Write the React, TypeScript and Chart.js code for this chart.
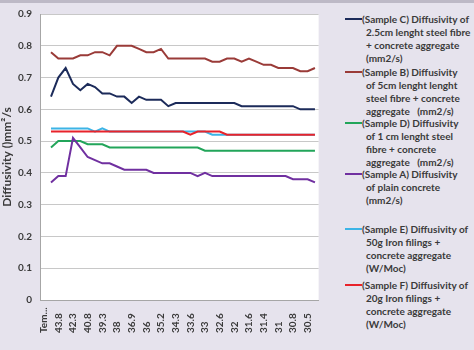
import React, { useEffect, useRef } from "react";
import { Chart, registerables } from "chart.js";

Chart.register(...registerables);

const categories = [
  "Temperature", "44.5", "43.8", "43.1", "42.3", "41.6", "40.8", "40.1", "39.3", "38.6",
  "38", "37.4", "36.9", "36.4", "36", "35.6", "35.2", "34.7", "34.3", "33.9",
  "33.6", "33.3", "33", "32.8", "32.6", "32.3", "32", "31.8", "31.6", "31.5",
  "31.4", "31.2", "31", "30.9", "30.8", "30.6", "30.5", "30.3",
];

const sampleC = [null,
  0.64, 0.70, 0.73, 0.68, 0.66, 0.68, 0.67, 0.65, 0.65, 0.64,
  0.64, 0.62, 0.64, 0.63, 0.63, 0.63, 0.61, 0.62, 0.62, 0.62,
  0.62, 0.62, 0.62, 0.62, 0.62, 0.62, 0.61, 0.61, 0.61, 0.61,
  0.61, 0.61, 0.61, 0.61, 0.60, 0.60, 0.60];
const sampleB = [null,
  0.78, 0.76, 0.76, 0.76, 0.77, 0.77, 0.78, 0.78, 0.77, 0.80,
  0.80, 0.80, 0.79, 0.78, 0.78, 0.79, 0.76, 0.76, 0.76, 0.76,
  0.76, 0.76, 0.75, 0.75, 0.76, 0.76, 0.75, 0.76, 0.75, 0.74,
  0.74, 0.73, 0.73, 0.73, 0.72, 0.72, 0.73];
const sampleD = [null,
  0.48, 0.50, 0.50, 0.50, 0.50, 0.49, 0.49, 0.49, 0.48, 0.48,
  0.48, 0.48, 0.48, 0.48, 0.48, 0.48, 0.48, 0.48, 0.48, 0.48,
  0.48, 0.47, 0.47, 0.47, 0.47, 0.47, 0.47, 0.47, 0.47, 0.47,
  0.47, 0.47, 0.47, 0.47, 0.47, 0.47, 0.47];
const sampleA = [null,
  0.37, 0.39, 0.39, 0.51, 0.48, 0.45, 0.44, 0.43, 0.43, 0.42,
  0.41, 0.41, 0.41, 0.41, 0.40, 0.40, 0.40, 0.40, 0.40, 0.40,
  0.39, 0.40, 0.39, 0.39, 0.39, 0.39, 0.39, 0.39, 0.39, 0.39,
  0.39, 0.39, 0.39, 0.38, 0.38, 0.38, 0.37];
const sampleE = [null,
  0.54, 0.54, 0.54, 0.54, 0.54, 0.54, 0.53, 0.54, 0.53, 0.53,
  0.53, 0.53, 0.53, 0.53, 0.53, 0.53, 0.53, 0.53, 0.53, 0.53,
  0.53, 0.53, 0.52, 0.52, 0.52, 0.52, 0.52, 0.52, 0.52, 0.52,
  0.52, 0.52, 0.52, 0.52, 0.52, 0.52, 0.52];
const sampleF = [null,
  0.53, 0.53, 0.53, 0.53, 0.53, 0.53, 0.53, 0.53, 0.53, 0.53,
  0.53, 0.53, 0.53, 0.53, 0.53, 0.53, 0.53, 0.53, 0.53, 0.52,
  0.53, 0.53, 0.53, 0.53, 0.52, 0.52, 0.52, 0.52, 0.52, 0.52,
  0.52, 0.52, 0.52, 0.52, 0.52, 0.52, 0.52];

const yTicks = [0, 0.1, 0.2, 0.3, 0.4, 0.5, 0.6, 0.7, 0.8, 0.9];
const yTitle = "Diffusivity ()mm\u00B2/s";

const seriesLines = [
  ["(Sample C) Diffusivity of", "2.5cm lenght steel fibre", "+ concrete aggregate", "(mm2/s)"],
  ["(Sample B) Diffusivity", "of 5cm lenght lenght", "steel fibre + concrete", "aggregate   (mm2/s)"],
  ["(Sample D) Diffusivity", "of 1 cm lenght steel", "fibre + concrete", "aggregate   (mm2/s)"],
  ["(Sample A) Diffusivity", "of plain concrete", "(mm2/s)"],
  ["(Sample E) Diffusivity of", "50g Iron filings +", "concrete aggregate", "(W/Moc)"],
  ["(Sample F) Diffusivity of", "20g Iron filings +", "concrete aggregate", "(W/Moc)"],
];
const seriesValues = [sampleC, sampleB, sampleD, sampleA, sampleE, sampleF];
const seriesColors = ["#1c2b5a", "#9a3b38", "#22a55a", "#7030a0", "#3cb4e6", "#e8232b"];
const legendTops = [19, 72, 123, 174, 229, 285];

const TEXT = "#3a3a3a";
const FONT = "Lato";

const plotBg = {
  id: "plotBg",
  beforeDraw(chart: any) {
    const { ctx, chartArea } = chart;
    ctx.save();
    ctx.fillStyle = "#ffffff";
    ctx.fillRect(chartArea.left, chartArea.top, chartArea.right - chartArea.left, chartArea.bottom - chartArea.top);
    ctx.restore();
  },
};

const xLabels = {
  id: "xLabels",
  afterDraw(chart: any) {
    const { ctx, chartArea } = chart;
    const sx = chart.scales.x;
    ctx.save();
    ctx.font = `bold 10px ${FONT}`;
    ctx.fillStyle = TEXT;
    ctx.textAlign = "left";
    ctx.textBaseline = "middle";
    sx.ticks.forEach((t: any, i: number) => {
      const lab = i % 2 === 0 ? (categories[i].length > 6 ? categories[i].slice(0, 3) + "..." : categories[i]) : "";
      if (!lab) return;
      const px = sx.getPixelForTick(i);
      ctx.save();
      ctx.translate(px, chartArea.bottom + 33);
      ctx.rotate(-Math.PI / 2);
      ctx.fillText(lab, 0, 0);
      ctx.restore();
    });
    ctx.restore();
  },
};

export default function App() {
  const ref = useRef<HTMLCanvasElement>(null);
  useEffect(() => {
    if (!ref.current) return;
    const chart = new Chart(ref.current, {
      type: "line",
      data: {
        labels: categories,
        datasets: seriesValues.map((vals, i) => ({
          label: seriesLines[i].join(" "),
          data: vals,
          borderColor: seriesColors[i],
          backgroundColor: seriesColors[i],
          borderWidth: 2,
          pointRadius: 0,
          tension: 0,
          order: seriesValues.length - 1 - i,
        })),
      },
      options: {
        animation: false,
        responsive: false,
        layout: { padding: { top: 8, right: 3, left: 0, bottom: 0 } },
        plugins: { legend: { display: false }, tooltip: { enabled: false } },
        scales: {
          x: {
            type: "category",
            offset: true,
            grid: { display: false, drawTicks: false },
            border: { display: true, color: "#a6a6a6", width: 1 },
            ticks: { autoSkip: false, maxRotation: 90, minRotation: 90, color: "rgba(0,0,0,0)", font: { family: FONT, size: 10, weight: "bold" } },
            afterFit: (s: any) => { s.height = 50; },
          },
          y: {
            min: 0,
            max: 0.9,
            afterBuildTicks: (s: any) => { s.ticks = yTicks.map((v) => ({ value: v })); },
            ticks: {
              color: TEXT,
              padding: 8,
              font: { family: FONT, size: 10, weight: "bold" },
              callback: (v: any) => (v === 0 ? "0" : Number(v).toFixed(1)),
            },
            grid: { color: "#c8c8c8", drawTicks: false, lineWidth: 1 },
            border: { display: true, color: "#a6a6a6", width: 1 },
            title: { display: true, text: yTitle, color: TEXT, font: { family: FONT, size: 12, weight: "bold" }, padding: { top: 0, bottom: 0 } },
            afterFit: (s: any) => { s.width = 40; },
          },
        },
      },
      plugins: [plotBg, xLabels],
    });
    return () => chart.destroy();
  }, []);

  return (
    <div style={{ position: "fixed", left: 0, top: 0, width: 474, height: 350, background: "#e6e3ed", overflow: "hidden", fontFamily: FONT }}>
      <div style={{ position: "absolute", left: 0, top: 0, width: 474, height: 3, background: "#bdb9c6" }} />
      <canvas ref={ref} width={330} height={350} style={{ position: "absolute", left: 0, top: 0, width: 330, height: 350 }} />
      {seriesLines.map((lines, i) => (
        <div key={i} style={{ position: "absolute", left: 345, top: legendTops[i] - 6.5, width: 128, fontSize: 10, fontWeight: 700, color: TEXT, lineHeight: "13px", whiteSpace: "pre" }}>
          <div style={{ position: "absolute", left: 0, top: 5.5, width: 17, height: 2, background: seriesColors[i] }} />
          {lines.map((ln, j) => (
            <div key={j} style={{ paddingLeft: j === 0 ? 17 : 21 }}>{ln}</div>
          ))}
        </div>
      ))}
    </div>
  );
}
